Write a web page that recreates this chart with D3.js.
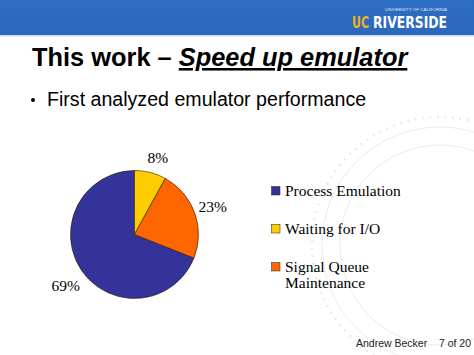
<!DOCTYPE html>
<html><head><meta charset="utf-8">
<script src="https://cdn.jsdelivr.net/npm/d3@7"></script>
<style>html,body{margin:0;padding:0;background:#fff;overflow:hidden}</style>
</head><body>
<svg id="c" width="474" height="355"></svg>
<script>
const categories = ["Process Emulation", "Waiting for I/O", "Signal Queue Maintenance"];
const values = [69, 8, 23];
const labels = ["69%", "8%", "23%"];
const colors = ["#333399", "#FFCC00", "#FF6600"];

const svg = d3.select("#c");

// faint seal watermark
const wm = svg.append("g").attr("fill", "none").attr("stroke", "#e9ecef");
wm.append("circle").attr("cx", 440).attr("cy", 245).attr("r", 118).attr("stroke-width", 1);
wm.append("circle").attr("cx", 440).attr("cy", 245).attr("r", 100).attr("stroke-width", 1);
wm.append("circle").attr("cx", 440).attr("cy", 245).attr("r", 128)
  .attr("stroke-width", 2.5).attr("stroke-dasharray", "1.5 6").attr("stroke", "#e4e7ea");

// header bar
const grad = svg.append("defs").append("linearGradient").attr("id", "hg")
  .attr("x1", 0).attr("y1", 0).attr("x2", 0).attr("y2", 1);
grad.append("stop").attr("offset", 0).attr("stop-color", "#2d6dc2");
grad.append("stop").attr("offset", 1).attr("stop-color", "#2b68bb");
svg.append("rect").attr("x", 0).attr("y", 0).attr("width", 474).attr("height", 35).attr("fill", "url(#hg)");
svg.append("rect").attr("x", 0).attr("y", 35).attr("width", 474).attr("height", 1.5).attr("fill", "#c9d9ee");

// logo
const logoFont = "'DejaVu Sans Condensed', 'Liberation Sans Narrow', Arial, sans-serif";
svg.append("text").attr("x", 352).attr("y", 28)
  .attr("font-family", logoFont).attr("font-weight", "bold").attr("font-size", 16)
  .attr("textLength", 17).attr("lengthAdjust", "spacingAndGlyphs")
  .attr("fill", "#f1b11a").text("UC");
svg.append("text").attr("x", 373).attr("y", 28)
  .attr("font-family", logoFont).attr("font-weight", "bold").attr("font-size", 16)
  .attr("textLength", 74).attr("lengthAdjust", "spacingAndGlyphs")
  .attr("fill", "#ffffff").text("RIVERSIDE");
svg.append("text").attr("x", 385).attr("y", 11).attr("fill", "#dfe8f5")
  .attr("font-family", "Arial, sans-serif").attr("font-size", 3).attr("textLength", 62)
  .attr("lengthAdjust", "spacingAndGlyphs").text("UNIVERSITY OF CALIFORNIA");

// title
const title = svg.append("text").attr("x", 32).attr("y", 66)
  .attr("font-family", "'Liberation Sans', Arial, sans-serif").attr("font-weight", "bold")
  .attr("font-size", 25.4).attr("fill", "#000");
title.append("tspan").text("This work – ");
title.append("tspan").attr("font-style", "italic").attr("text-decoration", "underline").text("Speed up emulator");

// bullet
svg.append("circle").attr("cx", 33).attr("cy", 100).attr("r", 2).attr("fill", "#000");
svg.append("text").attr("x", 47).attr("y", 106)
  .attr("font-family", "'Liberation Sans', Arial, sans-serif").attr("font-size", 19.6)
  .attr("fill", "#000").text("First analyzed emulator performance");

// pie
const cx = 134.5, cy = 234.5, R = 64;
const startA = (values[1] + values[2]) / 100 * 2 * Math.PI;
const pie = d3.pie().sort(null).value(d => d).startAngle(startA).endAngle(startA + 2 * Math.PI);
const arcs = pie(values);
const arc = d3.arc().innerRadius(0).outerRadius(R);
const g = svg.append("g").attr("transform", `translate(${cx},${cy})`);
g.selectAll("path").data(arcs).join("path")
  .attr("d", arc).attr("fill", (d, i) => colors[i])
  .attr("stroke", "#2a1a00").attr("stroke-width", 0.6);

const labelArc = d3.arc().innerRadius(R + 18).outerRadius(R + 18);
const offs = [[-1, 5], [3, 2], [1, 0]];
g.selectAll("text.lbl").data(arcs).join("text").attr("class", "lbl")
  .attr("x", (d, i) => labelArc.centroid(d)[0] + offs[i][0])
  .attr("y", (d, i) => labelArc.centroid(d)[1] + offs[i][1])
  .attr("text-anchor", "middle").attr("dominant-baseline", "central")
  .attr("font-family", "'Liberation Serif', 'Times New Roman', serif").attr("font-size", 15.5)
  .attr("fill", "#000").text((d, i) => labels[i]);

// legend
const ly = [191, 229, 267];
const leg = svg.append("g");
categories.forEach((c, i) => {
  leg.append("rect").attr("x", 271.5).attr("y", ly[i] - 4.5).attr("width", 8.5).attr("height", 8.5)
    .attr("fill", colors[i]).attr("stroke", "#222").attr("stroke-width", 0.5);
  const words = i === 2 ? ["Signal Queue", "Maintenance"] : [c];
  words.forEach((w, k) => {
    leg.append("text").attr("x", 285).attr("y", ly[i] + 5 + k * 16)
      .attr("font-family", "'Liberation Serif', 'Times New Roman', serif").attr("font-size", 15.5)
      .attr("fill", "#000").text(w);
  });
});

// footer
svg.append("text").attr("x", 356).attr("y", 347)
  .attr("font-family", "'Liberation Sans', Arial, sans-serif").attr("font-size", 10.5)
  .attr("fill", "#222").text("Andrew Becker");
svg.append("text").attr("x", 471).attr("y", 347).attr("text-anchor", "end")
  .attr("font-family", "'Liberation Sans', Arial, sans-serif").attr("font-size", 10.5)
  .attr("fill", "#222").text("7 of 20");
</script>
</body></html>
